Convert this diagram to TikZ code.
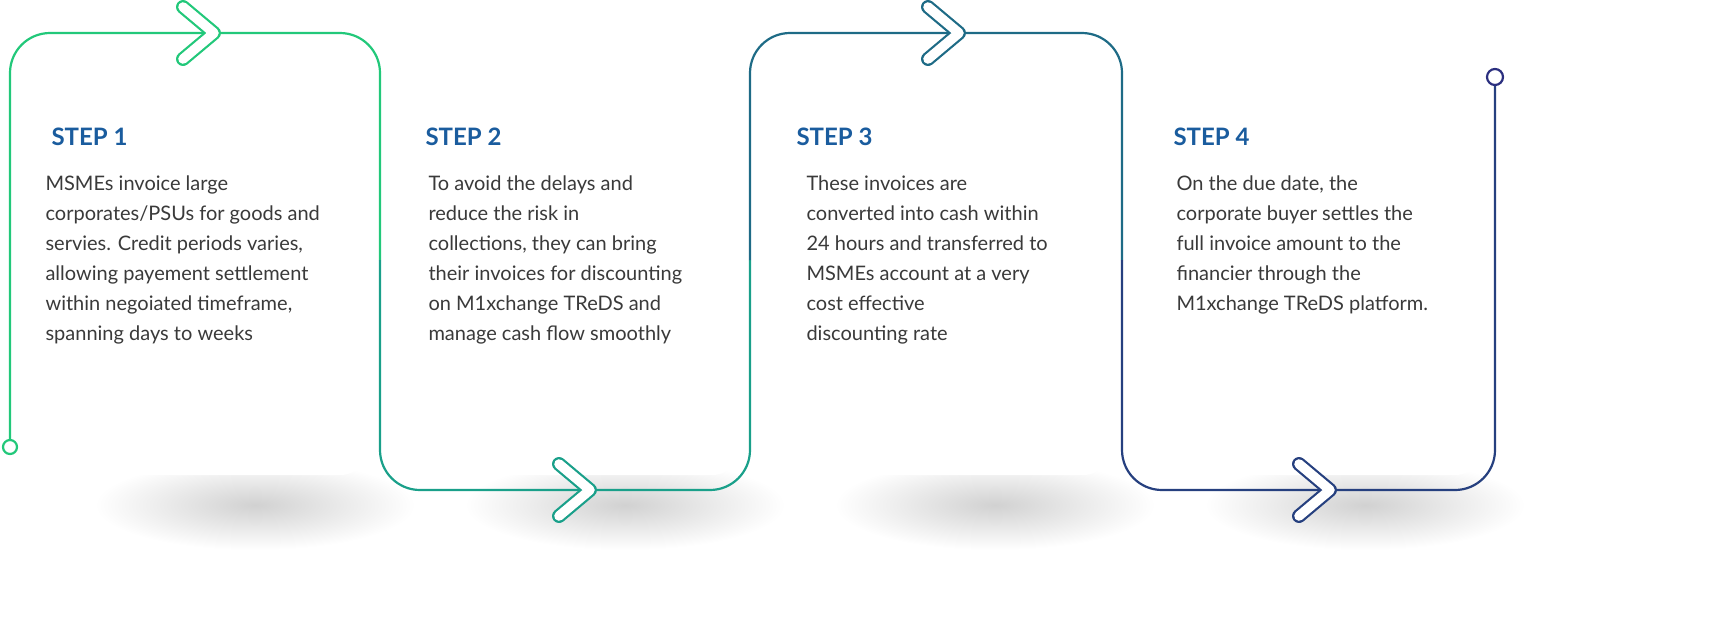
\documentclass[tikz,border=0pt]{standalone}
\usepackage{fontspec}
\setmainfont{Lato}
\usetikzlibrary{positioning}
\definecolor{cA}{HTML}{22C87A}
\definecolor{cB}{HTML}{1AA08A}
\definecolor{cC}{HTML}{1E6B86}
\definecolor{cD}{HTML}{26407F}
\definecolor{cE}{HTML}{2B2F7F}
\definecolor{steptxt}{HTML}{1A5C9E}
\definecolor{bodytxt}{HTML}{3A3A3A}
\tikzset{
  flow/.style={line width=2.2pt, rounded corners=40pt},
  steptitle/.style={anchor=base west, font=\fontsize{24}{28}\selectfont\bfseries, text=steptxt},
  stepbody/.style={anchor=north west, align=left, font=\fontsize{20}{30}\selectfont, text=bodytxt},
  cardshadow/.style={inner color=black!18, outer color=white, draw=none}
}
\newcommand{\chev}[3]{% x, y, colour
  \draw[#3, line width=14pt, line cap=round, line join=round] (#1-31,#2-26) -- (#1,#2) -- (#1-31,#2+26);
  \draw[white, line width=9.6pt, line cap=round, line join=round] (#1-31,#2-26) -- (#1,#2) -- (#1-31,#2+26);
}
\begin{document}
\begin{tikzpicture}[x=1pt,y=-1pt]
  \useasboundingbox (0,0) rectangle (1721,625);
  % shadows under the cards
  \foreach \cx in {255,625,995,1365}
    \shade[cardshadow] (\cx,505) ellipse (160 and 45);
  \foreach \lx in {20,392,763,1135}
    \fill[white, rounded corners=30pt] (\lx,50) rectangle (\lx+350,475);

  % flow line
  \coordinate (start) at (10,447);
  \coordinate (finish) at (1495,77);
  \draw[flow, cA] (start) -- (10,33) -- (380,33) -- (380,260);
  \draw[flow, cB] (380,260) -- (380,490) -- (750,490) -- (750,260);
  \draw[flow, cC] (750,260) -- (750,33) -- (1122,33) -- (1122,260);
  \draw[flow, cD] (1122,260) -- (1122,490) -- (1495,490) -- (finish);
  \draw[line width=2.2pt, cA, fill=white] (start) circle (7);
  \draw[line width=2.2pt, cE, fill=white] (finish) circle (8);

  % chevrons
  \chev{214}{33}{cA}
  \chev{590}{490}{cB}
  \chev{959}{33}{cC}
  \chev{1330}{490}{cD}

  % texts
  \node[steptitle] (t1) at (48,145) {STEP 1};
  \node[stepbody] (b1) at (42,172) {MSMEs invoice large\\corporates/PSUs for goods and\\servies. Credit periods varies,\\allowing payement settlement\\within negoiated timeframe,\\spanning days to weeks};
  \node[steptitle] (t2) at (422,145) {STEP 2};
  \node[stepbody] (b2) at (425,172) {To avoid the delays and\\reduce the risk in\\collections, they can bring\\their invoices for discounting\\on M1xchange TReDS and\\manage cash flow smoothly};
  \node[steptitle] (t3) at (793,145) {STEP 3};
  \node[stepbody] (b3) at (803,172) {These invoices are\\converted into cash within\\24 hours and transferred to\\MSMEs account at a very\\cost effective\\discounting rate};
  \node[steptitle] (t4) at (1170,145) {STEP 4};
  \node[stepbody] (b4) at (1173,172) {On the due date, the\\corporate buyer settles the\\full invoice amount to the\\financier through the\\M1xchange TReDS platform.};
\end{tikzpicture}
\end{document}
